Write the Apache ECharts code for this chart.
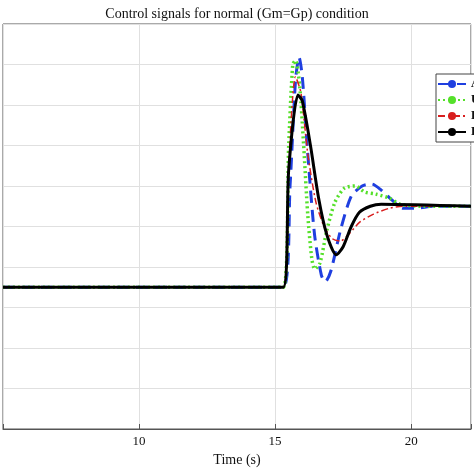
<!DOCTYPE html>
<html><head><meta charset="utf-8">
<script src="https://cdn.jsdelivr.net/npm/echarts@6/dist/echarts.min.js"></script>
<style>html,body{margin:0;padding:0;background:#fff}#c{width:474px;height:474px}</style>
</head><body><div id="c"></div>
<script>
const seriesNames = ["AMPC", "UMPC", "PID", "PFC"];
const blue = [[5,3.5],[15.3,3.5],[15.55,6],[15.75,8.6],[15.88,9.18],[16.0,8.7],[16.2,6.8],[16.45,4.8],[16.7,3.8],[16.84,3.63],[17.05,3.9],[17.4,4.9],[17.8,5.75],[18.2,6.0],[18.55,6.05],[18.9,5.9],[19.3,5.65],[19.7,5.45],[20.2,5.45],[20.8,5.5],[22.2,5.5]];
const green = [[5,3.5],[15.3,3.5],[15.5,7],[15.65,9.0],[15.75,9.1],[15.9,8.5],[16.05,7],[16.2,5.3],[16.35,4.2],[16.46,3.95],[16.65,4.1],[16.9,4.9],[17.2,5.6],[17.55,5.95],[17.95,6.0],[18.3,5.85],[18.7,5.8],[19.2,5.7],[19.6,5.55],[20.5,5.5],[22.2,5.5]];
const red = [[5,3.5],[15.3,3.5],[15.5,6.5],[15.75,8.7],[15.95,8.3],[16.2,6.8],[16.5,5.6],[16.8,5.0],[17.1,4.7],[17.4,4.64],[17.7,4.8],[18.1,5.1],[18.6,5.3],[19.2,5.45],[19.7,5.5],[22.2,5.5]];
const black = [[5,3.5],[15.3,3.5],[15.5,6.4],[15.84,8.25],[16.0,8.1],[16.3,7.0],[16.6,5.7],[16.9,4.8],[17.25,4.3],[17.5,4.5],[17.8,5.0],[18.1,5.35],[18.5,5.5],[18.9,5.55],[22.2,5.5]];
const xTicks = [10, 15, 20];
const font = "Liberation Serif";
const mk = (name, data, color, type, w) => ({name, type:'line', data, smooth:0.25, symbol:'none', showSymbol:false,
  lineStyle:{color, width:w, type}, itemStyle:{color}});
const chart = echarts.init(document.getElementById('c'));
chart.setOption({
  animation:false,
  title:{text:"Control signals for normal (Gm=Gp) condition", left:'center', top:2,
    textStyle:{fontFamily:font, fontSize:14, fontWeight:'normal', color:'#111'}},
  legend:{left:436, top:74, orient:'vertical', itemGap:4, itemWidth:28, itemHeight:10,
    backgroundColor:'#fff', borderColor:'#444', borderWidth:1, padding:[4,30,4,1],
    textStyle:{fontFamily:font, fontSize:12, fontWeight:'bold', color:'#111'}},
  grid:{left:-26, right:0, top:24, bottom:45, show:true, borderColor:'#555', borderWidth:1},
  xAxis:{type:'value', min:5, max:22.2, interval:5,
    name:"Time (s)", nameLocation:'middle', nameGap:24,
    nameTextStyle:{fontFamily:font, fontSize:14, color:'#111'},
    axisLine:{lineStyle:{color:'#555'}}, axisTick:{inside:true, length:5, lineStyle:{color:'#555'}},
    axisLabel:{fontFamily:font, fontSize:13, color:'#111', margin:6,
      formatter:v => xTicks.includes(v) ? String(v) : ''},
    splitLine:{lineStyle:{color:'#e0e0e0'}}},
  yAxis:{type:'value', min:0, max:10, interval:1, axisLabel:{show:false},
    axisLine:{show:false}, axisTick:{show:false}, splitLine:{lineStyle:{color:'#e0e0e0'}}},
  series:[
    mk(seriesNames[0], blue, '#1f3fe0', [12,7], 3),
    mk(seriesNames[1], green, '#55e02a', [2,3], 3.5),
    mk(seriesNames[2], red, '#d81e1e', [7,3,2,3], 1.5),
    mk(seriesNames[3], black, '#000', 'solid', 3)
  ]
});
</script></body></html>
